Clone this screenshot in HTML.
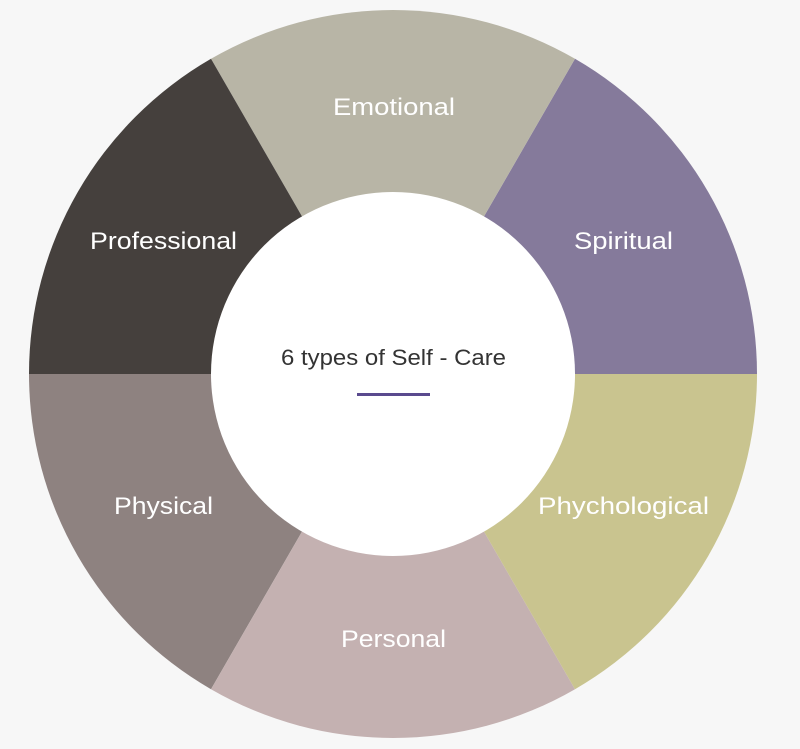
<!DOCTYPE html>
<html><head><meta charset="utf-8"><style>
html,body{margin:0;padding:0;background:#f7f7f7;width:800px;height:749px;overflow:hidden}
svg{display:block}
text{font-family:"Liberation Sans",sans-serif}
</style></head><body>
<svg width="800" height="749" viewBox="0 0 800 749">
<rect width="800" height="749" fill="#f7f7f7"/>
<g>
<path d="M393,374 L757,374 A364,364 0 0 0 575,58.8 Z" fill="#857a9b"/>
<path d="M393,374 L575,58.8 A364,364 0 0 0 211,58.8 Z" fill="#b8b5a6"/>
<path d="M393,374 L211,58.8 A364,364 0 0 0 29,374 Z" fill="#45403d"/>
<path d="M393,374 L29,374 A364,364 0 0 0 211,689.2 Z" fill="#8e8280"/>
<path d="M393,374 L211,689.2 A364,364 0 0 0 575,689.2 Z" fill="#c4b1b1"/>
<path d="M393,374 L575,689.2 A364,364 0 0 0 757,374 Z" fill="#c9c48f"/>
</g>
<circle cx="393" cy="374" r="182" fill="#ffffff"/>
<g fill="#ffffff" font-size="24">
<text x="333" y="115" textLength="122" lengthAdjust="spacingAndGlyphs">Emotional</text>
<text x="574" y="249" textLength="99" lengthAdjust="spacingAndGlyphs">Spiritual</text>
<text x="90" y="249" textLength="147" lengthAdjust="spacingAndGlyphs">Professional</text>
<text x="114" y="514" textLength="99" lengthAdjust="spacingAndGlyphs">Physical</text>
<text x="538" y="514" textLength="171" lengthAdjust="spacingAndGlyphs">Phychological</text>
<text x="341" y="647" textLength="105" lengthAdjust="spacingAndGlyphs">Personal</text>
</g>
<text x="281" y="365" font-size="22" fill="#333" textLength="225" lengthAdjust="spacingAndGlyphs">6 types of Self - Care</text>
<rect x="357" y="393" width="73" height="3" fill="#5a4a8e"/>
</svg>
</body></html>
